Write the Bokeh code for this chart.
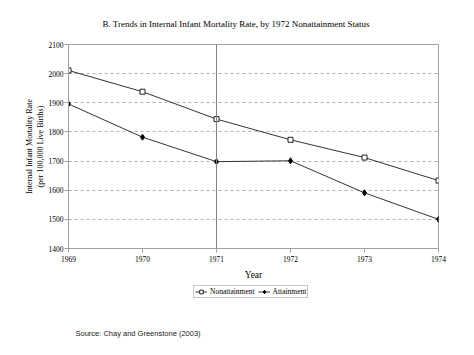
from bokeh.plotting import figure
from bokeh.layouts import column
from bokeh.models import Span, Label, Legend, LegendItem, FixedTicker, Range1d
from bokeh.embed import file_html
from bokeh.resources import INLINE

years = [1969, 1970, 1971, 1972, 1973, 1974]
nonattainment = [2011, 1938, 1844, 1773, 1712, 1633]
attainment = [1896, 1782, 1698, 1701, 1591, 1500]
y_ticks = [1400, 1500, 1600, 1700, 1800, 1900, 2000, 2100]
title_text = "B. Trends in Internal Infant Mortality Rate, by 1972 Nonattainment Status"
source_text = "Source: Chay and Greenstone (2003)"

SERIF = "Liberation Serif"
SANS = "Liberation Sans"
LINE = "#333333"

p = figure(width=474, height=284, output_backend="svg", toolbar_location=None,
           x_range=Range1d(1969, 1974), y_range=Range1d(1400, 2100),
           min_border_left=68, min_border_right=36, min_border_top=44, min_border_bottom=36)
p.title.text = title_text
p.title.align = "left"
p.title.offset = 34
p.title.standoff = 32
p.title.text_font = SERIF
p.title.text_font_size = "9px"
p.title.text_font_style = "normal"
p.title.text_color = "black"
p.outline_line_color = "#a0a0a0"
p.background_fill_color = "white"
p.border_fill_color = "white"

p.xgrid.visible = False
p.ygrid.ticker = FixedTicker(ticks=y_ticks[1:-1])
p.ygrid.grid_line_color = "#b0b0b0"
p.ygrid.grid_line_dash = "3 3"

for ax in (p.xaxis[0], p.yaxis[0]):
    ax.axis_line_color = "#a0a0a0"
    ax.major_tick_line_color = "#a0a0a0"
    ax.minor_tick_line_color = None
    ax.major_tick_in = 0
    ax.major_tick_out = 4
    ax.major_label_text_font = SERIF
    ax.major_label_text_font_size = "7.5px"
    ax.major_label_text_color = "black"
    ax.axis_label_text_font = SERIF
    ax.axis_label_text_font_style = "normal"
    ax.axis_label_text_color = "black"

p.xaxis.ticker = FixedTicker(ticks=years)
p.yaxis.ticker = FixedTicker(ticks=y_ticks)
p.xaxis.axis_label = "Year"
p.xaxis.axis_label_text_font_size = "9.5px"
p.xaxis.axis_label_standoff = 5
p.xaxis.major_label_standoff = 3
p.yaxis.axis_label = "Internal Infant Mortality Rate\n(per 100,000 Live Births)"
p.yaxis.axis_label_text_font_size = "8px"
p.yaxis.axis_label_standoff = 1
p.yaxis.major_label_standoff = 1

p.add_layout(Span(location=1971, dimension="height", line_color="#808080", line_width=1))

p.line(years, nonattainment, line_color=LINE, line_width=1)
p.scatter(years, nonattainment, marker="square", size=5, fill_color="white", line_color="#222222", line_width=1)
p.line(years, attainment, line_color=LINE, line_width=1)
p.scatter(years, attainment, marker="diamond", size=6, fill_color="black", line_color="black")

# lower strip: legend and source note (frame is aligned with the main plot's frame)
p2 = figure(width=474, height=71, output_backend="svg", toolbar_location=None,
            x_range=Range1d(0, 474), y_range=Range1d(0, 71),
            x_axis_location=None, y_axis_location=None, min_border=0)
p2.outline_line_color = None
p2.grid.visible = False
p2.border_fill_color = "white"
p2.background_fill_color = "white"

hidden = [-1000]
k1 = p2.line(x=hidden, y=hidden, line_color=LINE, line_width=1)
m1 = p2.scatter(x=hidden, y=hidden, marker="square", size=5, fill_color="white", line_color="#222222", line_width=1)
k2 = p2.line(x=hidden, y=hidden, line_color=LINE, line_width=1)
m2 = p2.scatter(x=hidden, y=hidden, marker="diamond", size=6, fill_color="black", line_color="black")

legend = Legend(items=[LegendItem(label="Nonattainment", renderers=[k1, m1]),
                       LegendItem(label="Attainment", renderers=[k2, m2])],
                orientation="horizontal", location=(125, 57),
                label_text_font=SERIF, label_text_font_size="7.5px", label_text_color="black",
                glyph_width=12, glyph_height=9, label_height=8, label_standoff=3,
                spacing=3, padding=1, margin=0,
                border_line_color="#909090", border_line_width=1,
                background_fill_color="white")
p2.add_layout(legend, "center")

p2.add_layout(Label(x=7, y=22, x_units="screen", y_units="screen", text=source_text,
                    text_font=SANS, text_font_size="7.5px", text_color="#222222",
                    text_align="left", text_baseline="middle"))

layout = column(p, p2, spacing=0)
open("out.html", "w").write(file_html(layout, INLINE))
